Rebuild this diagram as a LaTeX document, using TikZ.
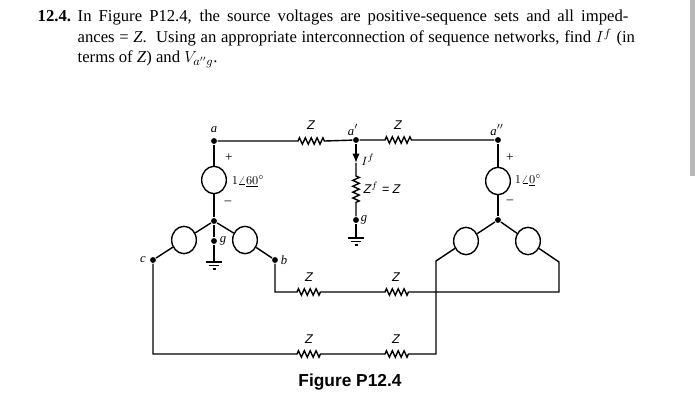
\documentclass[tikz,border=0pt]{standalone}
\usepackage{fontspec}
\setmainfont{Liberation Serif}
\newfontfamily\labelsans{Liberation Sans}
\usetikzlibrary{shapes.geometric,decorations.pathmorphing,arrows.meta}
\newcommand{\phasor}[2]{$#1\angle\underline{#2}^\circ$}
\newcommand{\gnd}[1]{\draw (#1) ++(-8,0) -- ++(16,0) (#1) ++(-5,3.5) -- ++(10,0) (#1) ++(-1.5,7) -- ++(3,0);}

\begin{document}
\begin{tikzpicture}[x=.75pt,y=-.75pt,line width=1.05pt]
\tikzstyle{dot}=[circle,fill,inner sep=0pt,minimum size=4.4pt]
\tikzstyle{src}=[ellipse,draw,inner sep=0pt,minimum width=18.5pt,minimum height=20.5pt]
\tikzstyle{lbl}=[inner sep=0pt,font=\fontsize{9.5}{10}\selectfont\itshape]
\tikzstyle{zlbl}=[inner sep=0pt,font=\fontsize{9.5}{10}\labelsans\itshape]
\tikzstyle{val}=[inner sep=0pt,font=\fontsize{10}{10}\selectfont]
\tikzstyle{para}=[inner sep=0pt,anchor=base west,font=\fontsize{12.5}{13}\selectfont]
\tikzstyle{res}=[decoration={zigzag,segment length=4.4pt,amplitude=2.4pt}]
\useasboundingbox (0,0) rectangle (700,420);
\fill[gray!55] (690,0) rectangle (695,176);
% problem text
\node[para,font=\fontsize{12.5}{13}\selectfont\bfseries] (num) at (37,22) {12.4.};
\node[para] (line1) at (77,22) {\makebox[413pt][s]{In Figure P12.4, the source voltages are positive-sequence sets and all imped-}};
\node[para] (line2) at (77,43) {\makebox[418pt][s]{ances = \textit{Z}.\ \ Using an appropriate interconnection of sequence networks, find $I^f$ (in}};
\node[para] (line3) at (77,63) {terms of \textit{Z}) and $V_{a''g}$.};
% buses
\node[dot] (a) at (214,141) {};
\node[dot] (ap) at (356,140) {};
\node[dot] (app) at (498,140) {};
\node[dot] (b) at (275,260) {};
\node[dot] (c) at (153,260) {};
\node[dot] (n1) at (214,221) {};
\node[dot] (n2) at (498,220) {};
\node[dot] (g1) at (214,241) {};
\node[dot] (g2) at (356,220) {};
% sources
\node[src] (va) at (214,180) {};
\node[src] (vb) at (245,240) {};
\node[src] (vc) at (184,240) {};
\node[src] (wa) at (498,181) {};
\node[src] (wb) at (466,241) {};
\node[src] (wc) at (528,241) {};
% corners
\coordinate (gnd1) at (214,262);
\coordinate (gnd2) at (356,238);
\coordinate (e1) at (275,292);
\coordinate (e2) at (153,354);
\coordinate (e3) at (436,261);
\coordinate (e4) at (436,354);
\coordinate (e5) at (559,262);
\coordinate (e6) at (559,292);
\coordinate (tip) at (356,163);
% ends of the impedances
\coordinate (t1) at (298,141);
\coordinate (t2) at (325,141);
\coordinate (t3) at (385,140);
\coordinate (t4) at (412,140);
\coordinate (m1) at (297,292);
\coordinate (m2) at (323,292);
\coordinate (m3) at (385,292);
\coordinate (m4) at (411,292);
\coordinate (l1) at (297,354);
\coordinate (l2) at (323,354);
\coordinate (l3) at (385,354);
\coordinate (l4) at (411,354);
\coordinate (f1) at (356,176);
\coordinate (f2) at (356,205);
% wiring
\draw (a) -- (t1) decorate[res] {-- (t2)} -- (ap) -- (t3) decorate[res] {-- (t4)} -- (app);
\draw (b) -- (e1) -- (m1) decorate[res] {-- (m2)} -- (m3) decorate[res] {-- (m4)} -- (e6) -- (e5) -- (wc);
\draw (c) -- (e2) -- (l1) decorate[res] {-- (l2)} -- (l3) decorate[res] {-- (l4)} -- (e4) -- (e3) -- (wb);
\draw (a) -- (va);
\draw (va) -- (n1);
\draw (n1) -- (vb);
\draw (vb) -- (b);
\draw (n1) -- (vc);
\draw (vc) -- (c);
\draw (n1) -- (g1);
\draw (g1) -- (gnd1);
\draw (app) -- (wa);
\draw (wa) -- (n2);
\draw (n2) -- (wb);
\draw (n2) -- (wc);
\draw[-{Latex[length=7pt,width=5.5pt]}] (ap) -- (tip);
\draw (tip) -- (f1) decorate[res] {-- (f2)} -- (g2);
\draw (g2) -- (gnd2);
\gnd{gnd1}
\gnd{gnd2}
% labels
\node[lbl] (la) at (214,130) {a};
\node[lbl] (lap) at (353,130) {a$'$};
\node[lbl] (lapp) at (497,130) {a$''$};
\node[lbl] (lb) at (284,260) {b};
\node[lbl] (lc) at (143,260) {c};
\node[lbl] (lg1) at (223,241) {g};
\node[lbl] (lg2) at (364,220) {g};
\node[zlbl] (z1) at (311,125) {Z};
\node[zlbl] (z2) at (398,125) {Z};
\node[zlbl] (z3) at (309,277) {Z};
\node[zlbl] (z4) at (396,277) {Z};
\node[zlbl] (z5) at (309,339) {Z};
\node[zlbl] (z6) at (396,339) {Z};
\node[lbl] (lif) at (368,160) {$I^f$};
\node[zlbl] (lzf) at (382,188) {Z$^f$ = Z};
\node[val] (p1) at (229,158) {+};
\node[val] (m1l) at (228,203) {--};
\node[val] (p2) at (510,158) {+};
\node[val] (m2l) at (510,202) {--};
\node[val,font=\fontsize{9}{10}\selectfont] (v1) at (248,181) {\phasor{1}{60}};
\node[val,font=\fontsize{9}{10}\selectfont] (v2) at (528,180) {\phasor{1}{0}};
\node[inner sep=0pt,font=\fontsize{13}{14}\labelsans\bfseries] (cap) at (350,382) {Figure P12.4};
\end{tikzpicture}
\end{document}
